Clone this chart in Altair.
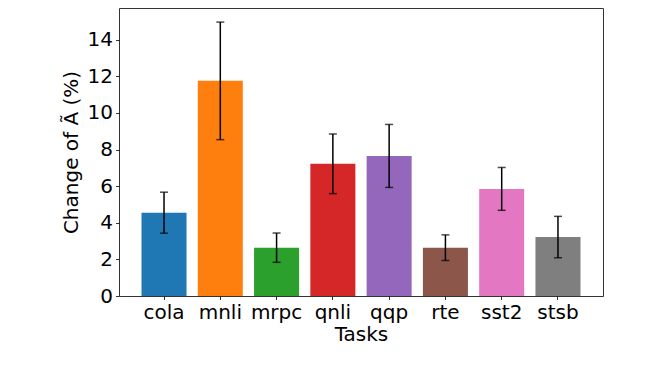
import altair as alt
import pandas as pd

tasks = ["cola", "mnli", "mrpc", "qnli", "qqp", "rte", "sst2", "stsb"]
values = [4.55, 11.75, 2.64, 7.22, 7.65, 2.64, 5.85, 3.22]
errors = [1.12, 3.21, 0.80, 1.63, 1.72, 0.70, 1.17, 1.13]
colors = ["#1f77b4", "#ff7f0e", "#2ca02c", "#d62728", "#9467bd", "#8c564b", "#e377c2", "#7f7f7f"]
y_ticks = [0, 2, 4, 6, 8, 10, 12, 14]

df = pd.DataFrame({"task": tasks, "value": values, "err": errors})
df["lo"] = df["value"] - df["err"]
df["hi"] = df["value"] + df["err"]

x_enc = alt.X(
    "task:N",
    sort=tasks,
    title="Tasks",
    scale=alt.Scale(paddingInner=0.2, paddingOuter=0.4),
    axis=alt.Axis(labelAngle=0, labelFontSize=20, titleFontSize=20, labelPadding=3,
                  titlePadding=2, tickSize=3.5, tickColor="#000", tickWidth=0.8,
                  labelColor="#000", titleColor="#000", domain=False,
                  labelFont="DejaVu Sans", titleFont="DejaVu Sans", titleFontWeight="normal"),
)
y_scale = alt.Scale(domain=[0, 15.73], nice=False, zero=True)
y_axis = alt.Axis(values=y_ticks, labelFontSize=20, titleFontSize=20, labelPadding=3,
                  titlePadding=6, tickSize=3.5, tickColor="#000", tickWidth=0.8,
                  labelColor="#000", titleColor="#000", domain=False, grid=False,
                  labelFont="DejaVu Sans", titleFont="DejaVu Sans", titleFontWeight="normal")

base = alt.Chart(df)

bars = base.mark_bar().encode(
    x=x_enc,
    y=alt.Y("value:Q", scale=y_scale, axis=y_axis, title="Change of Ã (%)"),
    color=alt.Color("task:N", sort=tasks, scale=alt.Scale(domain=tasks, range=colors), legend=None),
)

rules = base.mark_rule(color="#000", strokeWidth=1.5).encode(
    x=alt.X("task:N", sort=tasks),
    y="lo:Q",
    y2="hi:Q",
)

caps_lo = base.mark_tick(color="#000", thickness=1.5, size=8).encode(
    x=alt.X("task:N", sort=tasks),
    y="lo:Q",
)
caps_hi = base.mark_tick(color="#000", thickness=1.5, size=8).encode(
    x=alt.X("task:N", sort=tasks),
    y="hi:Q",
)

chart = alt.layer(bars, rules, caps_lo, caps_hi).properties(
    width=484,
    height=288,
    autosize=alt.AutoSizeParams(type="none"),
    padding={"left": 111, "top": 0, "right": 55, "bottom": 60},
    background="white",
).configure_view(stroke="#333333", strokeWidth=1)

chart.save("out.html", embed_options={"renderer": "svg", "actions": False})
